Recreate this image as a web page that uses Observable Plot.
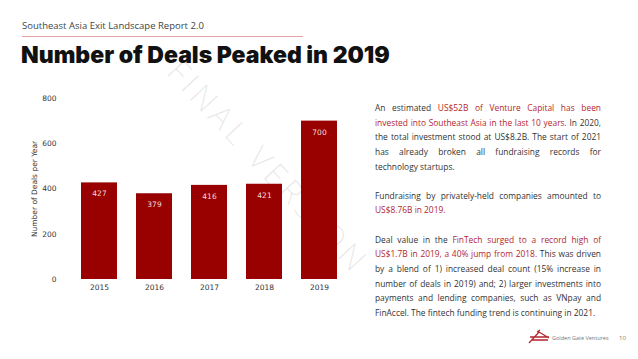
<!DOCTYPE html>
<html><head><meta charset="utf-8">
<script src="https://cdn.jsdelivr.net/npm/d3@7"></script>
<script src="https://cdn.jsdelivr.net/npm/@observablehq/plot@0.6"></script>
<style>
html,body{margin:0;padding:0;background:#fff;}
#page{position:relative;width:638px;height:359px;overflow:hidden;font-family:"Open Sans",sans-serif;}
#sub{position:absolute;left:22px;top:19px;font-size:9.5px;color:#444;font-family:"Open Sans";}
#rule{position:absolute;left:22px;top:36px;width:281px;height:1px;background:#e3a3a3;}
#title{position:absolute;left:21px;top:41px;font-family:Inter;font-weight:900;font-size:23px;color:#111;letter-spacing:0px;}
#chart{position:absolute;left:0;top:90px;}
#wm{position:absolute;left:190px;top:50px;font-family:"Open Sans";font-weight:300;font-size:32px;color:rgba(0,0,0,0.09);transform:rotate(47deg);transform-origin:left top;letter-spacing:4.5px;white-space:nowrap;}
#txt{position:absolute;left:375px;top:101px;width:226px;font-size:8.4px;color:#333;line-height:14.63px;}
#txt .l{text-align:justify;text-align-last:justify;white-space:nowrap;}
#txt .e{text-align:left;white-space:nowrap;}
#txt .gap{height:14.63px;}
.r{color:#b3262c;}
#foot{position:absolute;left:552px;top:334px;font-size:5.5px;color:#777;}
#pg{position:absolute;left:619px;top:334px;font-size:6px;color:#777;}
</style></head>
<body><div id="page">
<div id="sub">Southeast Asia Exit Landscape Report 2.0</div>
<div id="rule"></div>
<div id="wm">FINAL VERSION</div>
<div id="title">Number of Deals Peaked in 2019</div>
<div id="chart"></div>
<div id="txt">
<div class="l">An estimated <span class="r">US$52B of Venture Capital has been</span></div>
<div class="l"><span class="r">invested into Southeast Asia in the last 10 years.</span> In 2020,</div>
<div class="l">the total investment stood at US$8.2B. The start of 2021</div>
<div class="l">has already broken all fundraising records for</div>
<div class="e">technology startups.</div>
<div class="gap"></div>
<div class="l">Fundraising by privately-held companies amounted to</div>
<div class="e"><span class="r">US$8.76B in 2019.</span></div>
<div class="gap"></div>
<div class="l">Deal value in the <span class="r">FinTech surged to a record high of</span></div>
<div class="l"><span class="r">US$1.7B in 2019, a 40% jump from 2018.</span> This was driven</div>
<div class="l">by a blend of 1) increased deal count (15% increase in</div>
<div class="l">number of deals in 2019) and; 2) larger investments into</div>
<div class="l">payments and lending companies, such as VNpay and</div>
<div class="e">FinAccel. The fintech funding trend is continuing in 2021.</div>
</div>
<svg style="position:absolute;left:527px;top:329px" width="24" height="16" viewBox="0 0 24 16">
<path d="M2 14 L12 3 L22 9 M3 8 L22 8 M5 11 L21 11 M10 3 L13 1" stroke="#b3262c" stroke-width="1.3" fill="none"/>
</svg>
<div id="foot">Golden Gate Ventures</div>
<div id="pg">10</div>
</div>
<script>
const years = ["2015","2016","2017","2018","2019"];
const deals = [427, 379, 416, 421, 700];
const yTicks = [0, 200, 400, 600, 800];
const data = years.map((y,i)=>({year:y, deals:deals[i]}));
const chart = Plot.plot({
  width: 360, height: 210,
  marginTop: 8, marginBottom: 21, marginLeft: 61, marginRight: 3,
  style: {fontFamily: "DejaVu Sans", fontSize: "7.5px", color: "#333", background: "transparent"},
  x: {domain: years, padding: 0.35, label: null, tickSize: 0, tickPadding: 5},
  y: {domain: [0, 800], ticks: yTicks, label: "Number of Deals per Year", labelAnchor: "center", labelArrow: "none", labelOffset: 30, tickSize: 0, tickPadding: 5},
  marks: [
    Plot.barY(data, {x: "year", y: "deals", fill: "#990000"}),
    Plot.text(data, {x: "year", y: "deals", text: d => String(d.deals), fill: "#f2dede", dy: 11, fontSize: 7.5})
  ]
});
document.getElementById("chart").appendChild(chart);
</script>
</body></html>
